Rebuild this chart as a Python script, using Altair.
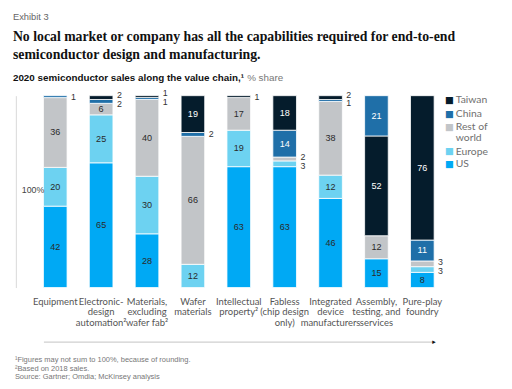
import altair as alt
import pandas as pd

# ---------------- data ----------------
categories = [
    "Equipment",
    "Electronic-|design|automation²",
    "Materials,|excluding|wafer fab²",
    "Wafer|materials",
    "Intellectual|property²",
    "Fabless|(chip design|only)",
    "Integrated|device|manufacturers",
    "Assembly,|testing, and|services",
    "Pure-play|foundry",
]
us = [42, 65, 28, 0, 63, 63, 46, 15, 8]
europe = [20, 25, 30, 12, 19, 3, 12, 0, 3]
rest_of_world = [36, 6, 40, 66, 17, 2, 38, 12, 3]
china = [1, 2, 1, 2, 0, 14, 1, 21, 11]
taiwan = [0, 2, 1, 19, 1, 18, 2, 52, 76]

regions = ["US", "Europe", "Rest of world", "China", "Taiwan"]
legend_order = ["Taiwan", "China", "Rest of world", "Europe", "US"]
legend_text = ["Taiwan", "China", "Rest of\nworld", "Europe", "US"]
colors = ["#051c2c", "#1f6fa8", "#c2c5c8", "#6dd2f1", "#00a9f4"]
stack_override = {"Assembly,|testing, and|services": ["US", "Europe", "Rest of world", "Taiwan", "China"]}

title_text = "No local market or company has all the capabilities required for end-to-end\nsemiconductor design and manufacturing."
exhibit_text = "Exhibit 3"
subtitle_text = "2020 semiconductor sales along the value chain,¹"
subtitle_unit = "% share"
ref_text = "100%"
footnotes = [
    "¹Figures may not sum to 100%, because of rounding.",
    "²Based on 2018 sales.",
    " Source: Gartner; Omdia; McKinsey analysis",
]

series = {"US": us, "Europe": europe, "Rest of world": rest_of_world, "China": china, "Taiwan": taiwan}
rows = []
for i, cat in enumerate(categories):
    order = stack_override.get(cat, regions)
    total = sum(series[r][i] for r in regions)
    cum = 0
    small = []
    for r in order:
        v = series[r][i]
        if v == 0:
            continue
        y0 = cum / total * 100
        y1 = (cum + v) / total * 100
        cum += v
        row = dict(cat=cat, region=r, value=v, y0=y0, y1=y1, mid=(y0 + y1) / 2,
                   inside=int(v >= 5), dark=int(r in ("Taiwan", "China")))
        rows.append(row)
        if v < 5:
            small.append(row)
    small.sort(key=lambda d: d["mid"])
    for a, b in zip(small, small[1:]):
        if b["mid"] - a["mid"] < 4.4:
            m = (a["mid"] + b["mid"]) / 2
            a["mid"], b["mid"] = m - 2.2, m + 2.2
df = pd.DataFrame(rows)

FONT = "Liberation Sans"
AXFONT = "Lato"

# x axis: labels above an offset domain line, which forms the value-chain arrow
x_enc = alt.X(
    "cat:N", sort=categories, title=None,
    scale=alt.Scale(paddingInner=0.485, paddingOuter=0),
    axis=alt.Axis(labelExpr="split(datum.label, '|')", labelAngle=0, ticks=False, tickSize=0,
                  domain=True, domainColor="#cfcfcf", domainWidth=1.2, offset=55,
                  labelPadding=-46, labelFontSize=9.6, labelColor="#555555", labelFont=AXFONT,
                  labelLineHeight=10.8, labelBaseline="top"),
)
y_scale = alt.Scale(domain=[0, 100])
# y axis: only its domain line, offset left, as the edge of the 100% frame
y_axis = alt.Axis(labels=False, ticks=False, grid=False, domain=True, domainColor="#d9d9d9",
                  domainWidth=1, offset=28, title=None)

bars = alt.Chart(df).mark_bar(stroke="white", strokeWidth=0.8).encode(
    x=x_enc,
    y=alt.Y("y0:Q", scale=y_scale, axis=y_axis),
    y2="y1:Q",
    color=alt.Color("region:N", scale=alt.Scale(domain=legend_order, range=colors), legend=None),
)

inside_labels = alt.Chart(df).transform_filter("datum.inside == 1").mark_text(
    fontSize=9.2, font=FONT, baseline="middle"
).encode(
    x=alt.X("cat:N", sort=categories),
    y=alt.Y("mid:Q", scale=y_scale, axis=y_axis),
    text="value:Q",
    color=alt.condition("datum.dark == 1", alt.value("#ffffff"), alt.value("#2a2a2a")),
)

outside_labels = alt.Chart(df).transform_filter("datum.inside == 0").mark_text(
    fontSize=9, font=FONT, baseline="middle", align="left", dx=4, color="#333333"
).encode(
    x=alt.X("cat:N", sort=categories, bandPosition=1),
    y=alt.Y("mid:Q", scale=y_scale, axis=y_axis),
    text="value:Q",
)


def text_layer(txt, x, y, **kw):
    d = pd.DataFrame({"t": [txt]})
    return alt.Chart(d).mark_text(align="left", baseline="alphabetic", **kw).encode(
        text="t:N", x=alt.value(x), y=alt.value(y))


exhibit = text_layer(exhibit_text, -31, -77, fontSize=9.5, font=FONT, color="#666666")
title = text_layer(title_text, -31, -56, fontSize=14, font="Liberation Serif", fontWeight="bold",
                   color="#111111", lineBreak="\n", lineHeight=19)
subtitle = text_layer(subtitle_text, -31, -15, fontSize=10, font=FONT, fontWeight="bold", color="#111111")
subunit = text_layer(subtitle_unit, 207, -15, fontSize=10, font=FONT, color="#777777")
ref_label = text_layer(ref_text, -22, 98.5, fontSize=9, font=FONT, color="#444444")
foot = [text_layer(t, -29, 271 + 8.5 * k, fontSize=7.6, font=FONT, color="#777777")
        for k, t in enumerate(footnotes)]

# legend (key squares + labels)
legend_y = [4, 18, 31, 56, 69]
legend_layers = []
for name, col, ly in zip(legend_text, colors, legend_y):
    legend_layers.append(text_layer("■", 408, ly + 3.4, fontSize=9.5, font="DejaVu Sans", color=col))
    legend_layers.append(text_layer(name, 419, ly + 3.8, fontSize=10.5, font=AXFONT,
                                    color="#707070", lineBreak="\n", lineHeight=11))

arrow_head = text_layer("▸", 395, 252.5, fontSize=7, font="DejaVu Sans", color="#111111")

chart = alt.layer(
    bars, inside_labels, outside_labels,
    exhibit, title, subtitle, subunit, ref_label, *foot, *legend_layers, arrow_head,
).properties(
    width=397, height=195,
    autosize=alt.AutoSizeParams(type="none"),
    padding={"left": 36, "top": 86, "right": 71, "bottom": 100},
    background="white",
).configure_view(strokeWidth=0)

chart.save("out.html", embed_options={"renderer": "svg", "actions": False})
